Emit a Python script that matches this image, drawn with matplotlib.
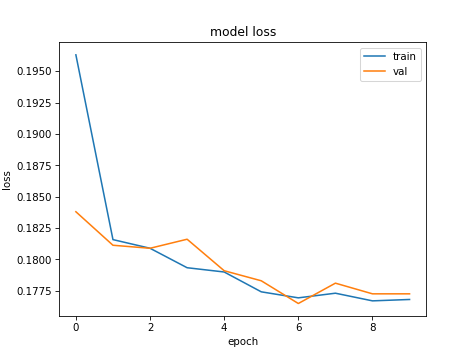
"""Plot training / validation loss per epoch."""
import matplotlib
matplotlib.use("Agg")
import matplotlib.pyplot as plt

epochs = list(range(10))
train_loss = [0.19630, 0.18158, 0.18089, 0.17934, 0.17900,
              0.17742, 0.17694, 0.17731, 0.17670, 0.17681]
val_loss = [0.18380, 0.18113, 0.18089, 0.18161, 0.17910,
            0.17830, 0.17649, 0.17811, 0.17726, 0.17726]

fig, ax = plt.subplots(figsize=(6.4, 4.8), dpi=74)
ax.plot(epochs, train_loss, label="train")
ax.plot(epochs, val_loss, label="val")
ax.set_title("model loss")
ax.set_xlabel("epoch")
ax.set_ylabel("loss")
ax.legend(loc="upper right")
fig.savefig("out.png", dpi=74)
